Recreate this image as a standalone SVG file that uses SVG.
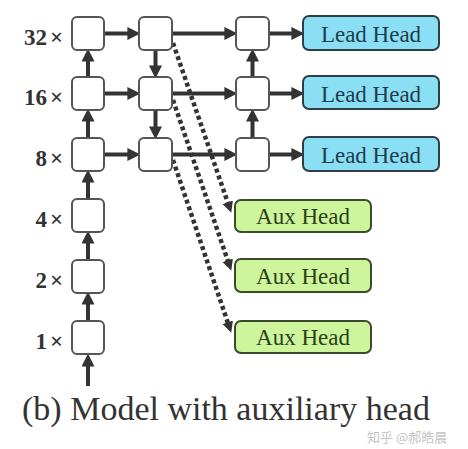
<svg xmlns="http://www.w3.org/2000/svg" width="468" height="449" viewBox="0 0 468 449">
<defs>
<marker id="ah" markerUnits="userSpaceOnUse" markerWidth="13" markerHeight="13" viewBox="0 0 10 10" refX="2" refY="5" orient="auto">
<path d="M0,0 L10,5 L0,10 z" fill="#333"/>
</marker>
<marker id="ahd" markerUnits="userSpaceOnUse" markerWidth="11" markerHeight="11" viewBox="0 0 10 10" refX="2" refY="5" orient="auto">
<path d="M0,0 L10,5 L0,10 z" fill="#333"/>
</marker>
</defs>
<style>
.blk{fill:#fff;stroke:#555;stroke-width:2}
.lead{fill:#8adff5;stroke:#2d3f44;stroke-width:2}
.aux{fill:#cdf59c;stroke:#3b4a2c;stroke-width:2}
.lt{font-family:"Liberation Serif","Times New Roman",serif;font-size:23px;fill:#1f3c4a;text-anchor:middle}
.at{font-family:"Liberation Serif","Times New Roman",serif;font-size:23px;fill:#2c3e1a;text-anchor:middle}
.sc{font-family:"Liberation Serif","Times New Roman",serif;font-size:23px;font-weight:bold;fill:#333;text-anchor:end}
.ar{stroke:#333;stroke-width:4;fill:none;marker-end:url(#ah)}
.dt{stroke:#333;stroke-width:4.5;fill:none;stroke-dasharray:4 3;marker-end:url(#ahd)}
.cap{font-family:"Liberation Serif","Times New Roman",serif;font-size:34px;fill:#333}
</style>
<rect width="468" height="449" fill="#fff"/>
<g id="scale-labels">
<text class="sc" x="63" y="45">32<tspan dx="3">×</tspan></text>
<text class="sc" x="63" y="105">16<tspan dx="3">×</tspan></text>
<text class="sc" x="63" y="166">8<tspan dx="3">×</tspan></text>
<text class="sc" x="63" y="227">4<tspan dx="3">×</tspan></text>
<text class="sc" x="63" y="288">2<tspan dx="3">×</tspan></text>
<text class="sc" x="63" y="349">1<tspan dx="3">×</tspan></text>
</g>
<g id="connectors">
<line class="ar" x1="88" y1="386" x2="88" y2="364"/>
<line class="ar" x1="88" y1="321" x2="88" y2="302"/>
<line class="ar" x1="88" y1="260" x2="88" y2="241"/>
<line class="ar" x1="88" y1="199" x2="88" y2="180"/>
<line class="ar" x1="88" y1="138" x2="88" y2="119"/>
<line class="ar" x1="88" y1="77" x2="88" y2="59"/>
<line class="ar" x1="104" y1="33.5" x2="130" y2="33.5"/>
<line class="ar" x1="104" y1="93.5" x2="130" y2="93.5"/>
<line class="ar" x1="104" y1="154.5" x2="130" y2="154.5"/>
<line class="ar" x1="155.5" y1="50" x2="155.5" y2="68"/>
<line class="ar" x1="155.5" y1="110" x2="155.5" y2="129"/>
<line class="ar" x1="172" y1="33.5" x2="227" y2="33.5"/>
<line class="ar" x1="172" y1="93.5" x2="227" y2="93.5"/>
<line class="ar" x1="172" y1="154.5" x2="227" y2="154.5"/>
<line class="ar" x1="252.5" y1="138" x2="252.5" y2="119"/>
<line class="ar" x1="252.5" y1="77" x2="252.5" y2="59"/>
<line class="ar" x1="269" y1="33.5" x2="294" y2="33.5"/>
<line class="ar" x1="269" y1="93.5" x2="294" y2="93.5"/>
<line class="ar" x1="269" y1="154.5" x2="294" y2="154.5"/>
<line class="dt" x1="173" y1="43" x2="228.4" y2="204.4"/>
<line class="dt" x1="173" y1="100" x2="228.4" y2="262.4"/>
<line class="dt" x1="173" y1="160" x2="228.4" y2="324.4"/>
</g>
<g id="col1">
<rect id="n1-32" class="blk" x="72" y="17" width="32" height="33" rx="5"/>
<rect id="n1-16" class="blk" x="72" y="77" width="32" height="33" rx="5"/>
<rect id="n1-8" class="blk" x="72" y="138" width="32" height="33" rx="5"/>
<rect id="n1-4" class="blk" x="72" y="199" width="32" height="33" rx="5"/>
<rect id="n1-2" class="blk" x="72" y="260" width="32" height="33" rx="5"/>
<rect id="n1-1" class="blk" x="72" y="321" width="32" height="33" rx="5"/>
</g>
<g id="col2">
<rect id="n2-32" class="blk" x="139" y="17" width="33" height="33" rx="5"/>
<rect id="n2-16" class="blk" x="139" y="77" width="33" height="33" rx="5"/>
<rect id="n2-8" class="blk" x="139" y="138" width="33" height="33" rx="5"/>
</g>
<g id="col3">
<rect id="n3-32" class="blk" x="236" y="17" width="33" height="33" rx="5"/>
<rect id="n3-16" class="blk" x="236" y="77" width="33" height="33" rx="5"/>
<rect id="n3-8" class="blk" x="236" y="138" width="33" height="33" rx="5"/>
</g>
<g id="lead1"><rect class="lead" x="303" y="16" width="136" height="34" rx="6"/><text class="lt" x="371" y="42">Lead Head</text></g>
<g id="lead2"><rect class="lead" x="303" y="76" width="136" height="33" rx="6"/><text class="lt" x="371" y="102">Lead Head</text></g>
<g id="lead3"><rect class="lead" x="303" y="137" width="136" height="34" rx="6"/><text class="lt" x="371" y="163">Lead Head</text></g>
<g id="aux1"><rect class="aux" x="235" y="200" width="136" height="32" rx="6"/><text class="at" x="303" y="224">Aux Head</text></g>
<g id="aux2"><rect class="aux" x="235" y="259" width="136" height="33" rx="6"/><text class="at" x="303" y="284">Aux Head</text></g>
<g id="aux3"><rect class="aux" x="235" y="321" width="136" height="32" rx="6"/><text class="at" x="303" y="345">Aux Head</text></g>
<text class="cap" x="22" y="420">(b) Model with auxiliary head</text>
<text x="367" y="442" font-family="'Noto Sans CJK SC',sans-serif" font-size="13" fill="#c4c4c4">知乎 @郝皓晨</text>
</svg>
